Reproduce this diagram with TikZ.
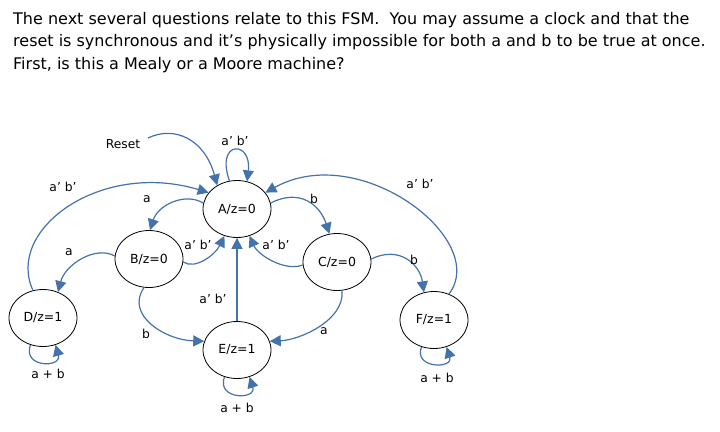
\documentclass[tikz,border=0pt]{standalone}
\usepackage{fontspec}
\setmainfont{DejaVu Sans}
\usetikzlibrary{arrows.meta,shapes.geometric}
\definecolor{eb}{HTML}{4472AA}
\begin{document}
\begin{tikzpicture}[x=1pt,y=-1pt,
  st/.style={draw,thick,ellipse,minimum width=68pt,minimum height=57pt,inner sep=0pt,font=\fontsize{12.5}{14}\selectfont},
  ed/.style={draw=eb,line width=1.2pt,-{Triangle[length=11pt,width=11pt]}},
  lb/.style={font=\fontsize{12.3}{14}\selectfont,inner sep=1pt}]
\useasboundingbox (0,0) rectangle (720,431);
\node[anchor=north west,align=left,inner sep=0pt,font=\fontsize{16}{22.5}\selectfont] (hdr) at (13,12)
 {The next several questions relate to this FSM.\ \ You may assume a clock and that the\\
  reset is synchronous and it’s physically impossible for both a and b to be true at once.\\
  First, is this a Mealy or a Moore machine?};
\node[st] (A) at (237,209) {A/z=0};
\node[st] (B) at (149,259) {B/z=0};
\node[st] (C) at (337,262) {C/z=0};
\node[st] (D) at (43,318) {D/z=1};
\node[st] (E) at (237,350) {E/z=1};
\node[st] (F) at (434,320) {F/z=1};
\node[lb] (rs) at (123,144) {Reset};
\coordinate (rs0) at (148,138);
\draw[ed] (rs0) .. controls (175,125) and (205,140) .. (A.130);
\draw[ed] (A.105) .. controls (215,140) and (252,140) .. (A.70);
\node[lb] (l1) at (235,141) {a’ b’};
\draw[ed] (D.110) .. controls (5,230) and (100,160) .. (A.150);
\node[lb] (l2) at (63,187) {a’ b’};
\draw[ed] (F.60) .. controls (490,240) and (360,140) .. (A.30);
\node[lb] (l3) at (420,184) {a’ b’};
\draw[ed] (A.170) .. controls (185,192) and (158,205) .. (B.88);
\node[lb] (l4) at (147,199) {a};
\draw[ed] (B.-5) .. controls (195,270) and (215,255) .. (A.-115);
\node[lb] (l5) at (198,245) {a’ b’};
\draw[ed] (C.185) .. controls (285,272) and (258,255) .. (A.-65);
\node[lb] (l6) at (276,245) {a’ b’};
\draw[ed] (E.90) -- (A.-90);
\node[lb] (l7) at (213,299) {a’ b’};
\draw[ed] (A.10) .. controls (300,188) and (320,205) .. (C.105);
\node[lb] (l8) at (314,199) {b};
\draw[ed] (B.175) .. controls (95,245) and (65,265) .. (D.60);
\node[lb] (l9) at (69,252) {a};
\draw[ed] (B.-100) .. controls (125,315) and (165,340) .. (E.165);
\node[lb] (l10) at (146,334) {b};
\draw[ed] (C.-80) .. controls (345,320) and (300,340) .. (E.15);
\node[lb] (l11) at (324,331) {a};
\draw[ed] (C.5) .. controls (400,245) and (420,265) .. (F.110);
\node[lb] (l12) at (414,260) {b};
\draw[ed] (D.-115) .. controls (22,368) and (62,368) .. (D.-65);
\node[lb] (l13) at (48,374) {a + b};
\draw[ed] (E.-115) .. controls (216,400) and (257,400) .. (E.-65);
\node[lb] (l14) at (237,408) {a + b};
\draw[ed] (F.-115) .. controls (413,369) and (454,369) .. (F.-65);
\node[lb] (l15) at (437,378) {a + b};
\end{tikzpicture}
\end{document}
